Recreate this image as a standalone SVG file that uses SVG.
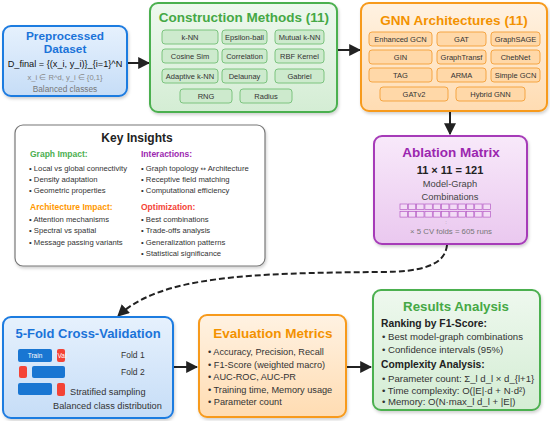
<svg xmlns="http://www.w3.org/2000/svg" width="550" height="421" viewBox="0 0 550 421">
<defs>
<linearGradient id="gBlue" x1="0" y1="0" x2="0" y2="1"><stop offset="0" stop-color="#e6f1fd"/><stop offset="1" stop-color="#c6ddf7"/></linearGradient>
<linearGradient id="gGreen" x1="0" y1="0" x2="0" y2="1"><stop offset="0" stop-color="#eef8ee"/><stop offset="1" stop-color="#d4edd4"/></linearGradient>
<linearGradient id="gOrange" x1="0" y1="0" x2="0" y2="1"><stop offset="0" stop-color="#fff2e2"/><stop offset="1" stop-color="#ffdcb2"/></linearGradient>
<linearGradient id="gPurple" x1="0" y1="0" x2="0" y2="1"><stop offset="0" stop-color="#f8e9fa"/><stop offset="1" stop-color="#eac8ef"/></linearGradient>
<filter id="sh" x="-10%" y="-10%" width="120%" height="130%"><feDropShadow dx="1" dy="2" stdDeviation="1.5" flood-color="#000" flood-opacity="0.18"/></filter>
<marker id="ah" viewBox="0 0 10 10" refX="9" refY="5" markerWidth="6" markerHeight="6" orient="auto" markerUnits="strokeWidth"><path d="M0,0 L10,5 L0,10 z" fill="#222"/></marker>
</defs>
<style>
text{font-family:"Liberation Sans",Arial,Helvetica,sans-serif;}
.box{stroke-width:2;filter:url(#sh);}
.t{font-weight:bold;text-anchor:middle;}
.c{text-anchor:middle;}
.gi{fill:#cdeacd;stroke:#7cc47f;stroke-width:1;}
.oi{fill:#ffd8a8;stroke:#f5a543;stroke-width:1;}
.it{font-size:7.5px;fill:#333;text-anchor:middle;}
.kb{font-size:7.7px;fill:#333;}
.kh{font-size:8.5px;font-weight:bold;}
.cell{fill:#f3dcf6;stroke:#b55cc5;stroke-width:0.7;}
.conn{stroke:#222;stroke-width:2;fill:none;}
</style>

<g id="connectors">
<line class="conn" x1="127" y1="63" x2="149" y2="63" marker-end="url(#ah)"/>
<line class="conn" x1="337" y1="50" x2="360" y2="50" marker-end="url(#ah)"/>
<line class="conn" x1="450" y1="111" x2="450" y2="134" marker-end="url(#ah)"/>
<path class="conn" d="M447,245 C445,266 420,272 380,272 C250,273 160,276 118,316" stroke-dasharray="6,3" marker-end="url(#ah)"/>
<line class="conn" x1="173" y1="367" x2="197" y2="367" marker-end="url(#ah)"/>
<line class="conn" x1="346" y1="367" x2="371" y2="367" marker-end="url(#ah)"/>
</g>

<g id="preprocessed">
<rect class="box" x="3" y="26" width="124" height="70" rx="8" fill="url(#gBlue)" stroke="#1e7be0"/>
<text class="t" x="65" y="40" font-size="11.8" fill="#1a73d9">Preprocessed</text>
<text class="t" x="65" y="53" font-size="11.8" fill="#1a73d9">Dataset</text>
<text class="c" x="65" y="66.5" font-size="9.2" fill="#111">D_final = {(x_i, y_i)}_{i=1}^N</text>
<text class="c" x="65" y="79.5" font-size="7.6" fill="#888">x_i ∈ R^d, y_i ∈ {0,1}</text>
<text class="c" x="65" y="92" font-size="8.3" fill="#777">Balanced classes</text>
</g>

<g id="construction">
<rect class="box" x="150" y="3" width="187" height="109" rx="8" fill="url(#gGreen)" stroke="#4cb050"/>
<text class="t" x="244" y="22" font-size="13.5" fill="#45a845">Construction Methods (11)</text>
<rect class="gi" x="162" y="30" width="56" height="14" rx="3"/><text class="it" x="190" y="39.7">k-NN</text>
<rect class="gi" x="222" y="30" width="45" height="14" rx="3"/><text class="it" x="244.5" y="39.7">Epsilon-ball</text>
<rect class="gi" x="275" y="30" width="49" height="14" rx="3"/><text class="it" x="299.5" y="39.7">Mutual k-NN</text>
<rect class="gi" x="162" y="49" width="56" height="14" rx="3"/><text class="it" x="190" y="58.7">Cosine Sim</text>
<rect class="gi" x="222" y="49" width="45" height="14" rx="3"/><text class="it" x="244.5" y="58.7">Correlation</text>
<rect class="gi" x="275" y="49" width="49" height="14" rx="3"/><text class="it" x="299.5" y="58.7">RBF Kernel</text>
<rect class="gi" x="162" y="69" width="56" height="14" rx="3"/><text class="it" x="190" y="78.7">Adaptive k-NN</text>
<rect class="gi" x="222" y="69" width="45" height="14" rx="3"/><text class="it" x="244.5" y="78.7">Delaunay</text>
<rect class="gi" x="275" y="69" width="49" height="14" rx="3"/><text class="it" x="299.5" y="78.7">Gabriel</text>
<rect class="gi" x="180" y="89" width="52" height="14" rx="3"/><text class="it" x="206" y="98.7">RNG</text>
<rect class="gi" x="240" y="89" width="52" height="14" rx="3"/><text class="it" x="266" y="98.7">Radius</text>
</g>

<g id="gnn">
<rect class="box" x="361" y="3" width="186" height="108" rx="8" fill="url(#gOrange)" stroke="#f79a1c"/>
<text class="t" x="454" y="24.5" font-size="13.5" fill="#f39200">GNN Architectures (11)</text>
<rect class="oi" x="369" y="32" width="63" height="14" rx="3"/><text class="it" x="400.5" y="41.7">Enhanced GCN</text>
<rect class="oi" x="437" y="32" width="49" height="14" rx="3"/><text class="it" x="461.5" y="41.7">GAT</text>
<rect class="oi" x="491" y="32" width="49" height="14" rx="3"/><text class="it" x="515.5" y="41.7">GraphSAGE</text>
<rect class="oi" x="369" y="50" width="63" height="14" rx="3"/><text class="it" x="400.5" y="59.7">GIN</text>
<rect class="oi" x="437" y="50" width="49" height="14" rx="3"/><text class="it" x="461.5" y="59.7">GraphTransf</text>
<rect class="oi" x="491" y="50" width="49" height="14" rx="3"/><text class="it" x="515.5" y="59.7">ChebNet</text>
<rect class="oi" x="369" y="68" width="63" height="14" rx="3"/><text class="it" x="400.5" y="77.7">TAG</text>
<rect class="oi" x="437" y="68" width="49" height="14" rx="3"/><text class="it" x="461.5" y="77.7">ARMA</text>
<rect class="oi" x="491" y="68" width="49" height="14" rx="3"/><text class="it" x="515.5" y="77.7">Simple GCN</text>
<rect class="oi" x="380" y="87" width="68" height="14" rx="3"/><text class="it" x="414" y="96.7">GATv2</text>
<rect class="oi" x="456" y="87" width="69" height="14" rx="3"/><text class="it" x="490.5" y="96.7">Hybrid GNN</text>
</g>

<g id="insights">
<rect x="15" y="125" width="250" height="141" rx="8" fill="#fff" stroke="#777" stroke-width="1.2" filter="url(#sh)"/>
<text class="t" x="137" y="142" font-size="12" fill="#222">Key Insights</text>
<text class="kh" x="30" y="157" fill="#4caf50">Graph Impact:</text>
<text class="kb" x="29" y="171">• Local vs global connectivity</text>
<text class="kb" x="29" y="182">• Density adaptation</text>
<text class="kb" x="29" y="193">• Geometric properties</text>
<text class="kh" x="30" y="210" fill="#ff9800">Architecture Impact:</text>
<text class="kb" x="29" y="222">• Attention mechanisms</text>
<text class="kb" x="29" y="233">• Spectral vs spatial</text>
<text class="kb" x="29" y="245">• Message passing variants</text>
<text class="kh" x="141" y="157" fill="#9c27b0">Interactions:</text>
<text class="kb" x="141" y="171">• Graph topology <tspan font-family="'DejaVu Sans',sans-serif" font-size="6.5">↔</tspan> Architecture</text>
<text class="kb" x="141" y="182">• Receptive field matching</text>
<text class="kb" x="141" y="193">• Computational efficiency</text>
<text class="kh" x="141" y="210" fill="#f44336">Optimization:</text>
<text class="kb" x="141" y="222">• Best combinations</text>
<text class="kb" x="141" y="233">• Trade-offs analysis</text>
<text class="kb" x="141" y="245">• Generalization patterns</text>
<text class="kb" x="141" y="256">• Statistical significance</text>
</g>

<g id="ablation">
<rect class="box" x="374" y="136" width="153" height="108" rx="8" fill="url(#gPurple)" stroke="#a63bb8"/>
<text class="t" x="451" y="157" font-size="13.5" fill="#9b27af">Ablation Matrix</text>
<text class="t" x="450" y="174" font-size="11" fill="#222">11 × 11 = 121</text>
<text class="c" x="450" y="186.5" font-size="9.3" fill="#444">Model-Graph</text>
<text class="c" x="450" y="199.5" font-size="9.3" fill="#444">Combinations</text>
<g>
<rect class="cell" x="400" y="204" width="7.4" height="5.6"/><rect class="cell" x="408.3" y="204" width="7.4" height="5.6"/><rect class="cell" x="416.6" y="204" width="7.4" height="5.6"/><rect class="cell" x="424.9" y="204" width="7.4" height="5.6"/><rect class="cell" x="433.2" y="204" width="7.4" height="5.6"/><rect class="cell" x="441.5" y="204" width="7.4" height="5.6"/><rect class="cell" x="449.8" y="204" width="7.4" height="5.6"/><rect class="cell" x="458.1" y="204" width="7.4" height="5.6"/><rect class="cell" x="466.4" y="204" width="7.4" height="5.6"/><rect class="cell" x="474.7" y="204" width="7.4" height="5.6"/><rect class="cell" x="483" y="204" width="7.4" height="5.6"/>
<rect class="cell" x="400" y="211.5" width="7.4" height="5.6"/><rect class="cell" x="408.3" y="211.5" width="7.4" height="5.6"/><rect class="cell" x="416.6" y="211.5" width="7.4" height="5.6"/><rect class="cell" x="424.9" y="211.5" width="7.4" height="5.6"/><rect class="cell" x="433.2" y="211.5" width="7.4" height="5.6"/><rect class="cell" x="441.5" y="211.5" width="7.4" height="5.6"/><rect class="cell" x="449.8" y="211.5" width="7.4" height="5.6"/><rect class="cell" x="458.1" y="211.5" width="7.4" height="5.6"/><rect class="cell" x="466.4" y="211.5" width="7.4" height="5.6"/><rect class="cell" x="474.7" y="211.5" width="7.4" height="5.6"/><rect class="cell" x="483" y="211.5" width="7.4" height="5.6"/>
</g>
<text class="c" x="446" y="224" font-size="6" fill="#999">:</text>
<text class="c" x="451" y="234" font-size="7.8" fill="#777">× 5 CV folds = 605 runs</text>
</g>

<g id="crossval">
<rect class="box" x="3" y="317" width="170" height="101" rx="8" fill="url(#gBlue)" stroke="#1e7be0"/>
<text class="t" x="88" y="338" font-size="13" fill="#1a73d9">5-Fold Cross-Validation</text>
<rect x="18" y="349" width="34" height="13" rx="2" fill="#1976d2"/>
<text class="c" x="35" y="358" font-size="6.5" fill="#fff">Train</text>
<rect x="57" y="349" width="8" height="13" rx="2" fill="#f44336"/>
<text x="57.5" y="358" font-size="6.5" fill="#fff">Val</text>
<text x="121" y="357.5" font-size="8.5" fill="#333">Fold 1</text>
<rect x="19" y="366" width="8" height="12" rx="2" fill="#f44336"/>
<rect x="32" y="366" width="33" height="12" rx="2" fill="#1976d2"/>
<text x="121" y="374.5" font-size="8.5" fill="#333">Fold 2</text>
<rect x="18" y="383" width="34" height="12" rx="2" fill="#1976d2"/>
<rect x="57" y="383" width="8" height="13" rx="2" fill="#f44336"/>
<text x="70" y="395" font-size="9.2" fill="#333">Stratified sampling</text>
<text x="53" y="408.5" font-size="9.2" fill="#333">Balanced class distribution</text>
</g>

<g id="evaluation">
<rect class="box" x="199" y="315" width="147" height="102" rx="8" fill="url(#gOrange)" stroke="#f79a1c"/>
<text class="t" x="273" y="338" font-size="13.5" fill="#f39200">Evaluation Metrics</text>
<text x="208" y="355" font-size="9.2" fill="#333">• Accuracy, Precision, Recall</text>
<text x="208" y="367.5" font-size="9.2" fill="#333">• F1-Score (weighted macro)</text>
<text x="208" y="380" font-size="9.2" fill="#333">• AUC-ROC, AUC-PR</text>
<text x="208" y="392.5" font-size="9.2" fill="#333">• Training time, Memory usage</text>
<text x="208" y="404.5" font-size="9.2" fill="#333">• Parameter count</text>
</g>

<g id="results">
<rect class="box" x="373" y="290" width="167" height="120" rx="8" fill="url(#gGreen)" stroke="#4cb050"/>
<text class="t" x="456" y="311" font-size="13.3" fill="#45a845">Results Analysis</text>
<text x="381" y="326.5" font-size="10.3" font-weight="bold" fill="#222">Ranking by F1-Score:</text>
<text x="382" y="340" font-size="9.6" fill="#333">• Best model-graph combinations</text>
<text x="382" y="352.5" font-size="9.6" fill="#333">• Confidence intervals (95%)</text>
<text x="381" y="368" font-size="10.3" font-weight="bold" fill="#222">Complexity Analysis:</text>
<text x="382" y="381.5" font-size="9.6" fill="#333">• Parameter count: Σ_l d_l × d_{l+1}</text>
<text x="382" y="393.5" font-size="9.6" fill="#333">• Time complexity: O(|E|·d + N·d²)</text>
<text x="382" y="405" font-size="9.6" fill="#333">• Memory: O(N·max_l d_l + |E|)</text>
</g>
</svg>
